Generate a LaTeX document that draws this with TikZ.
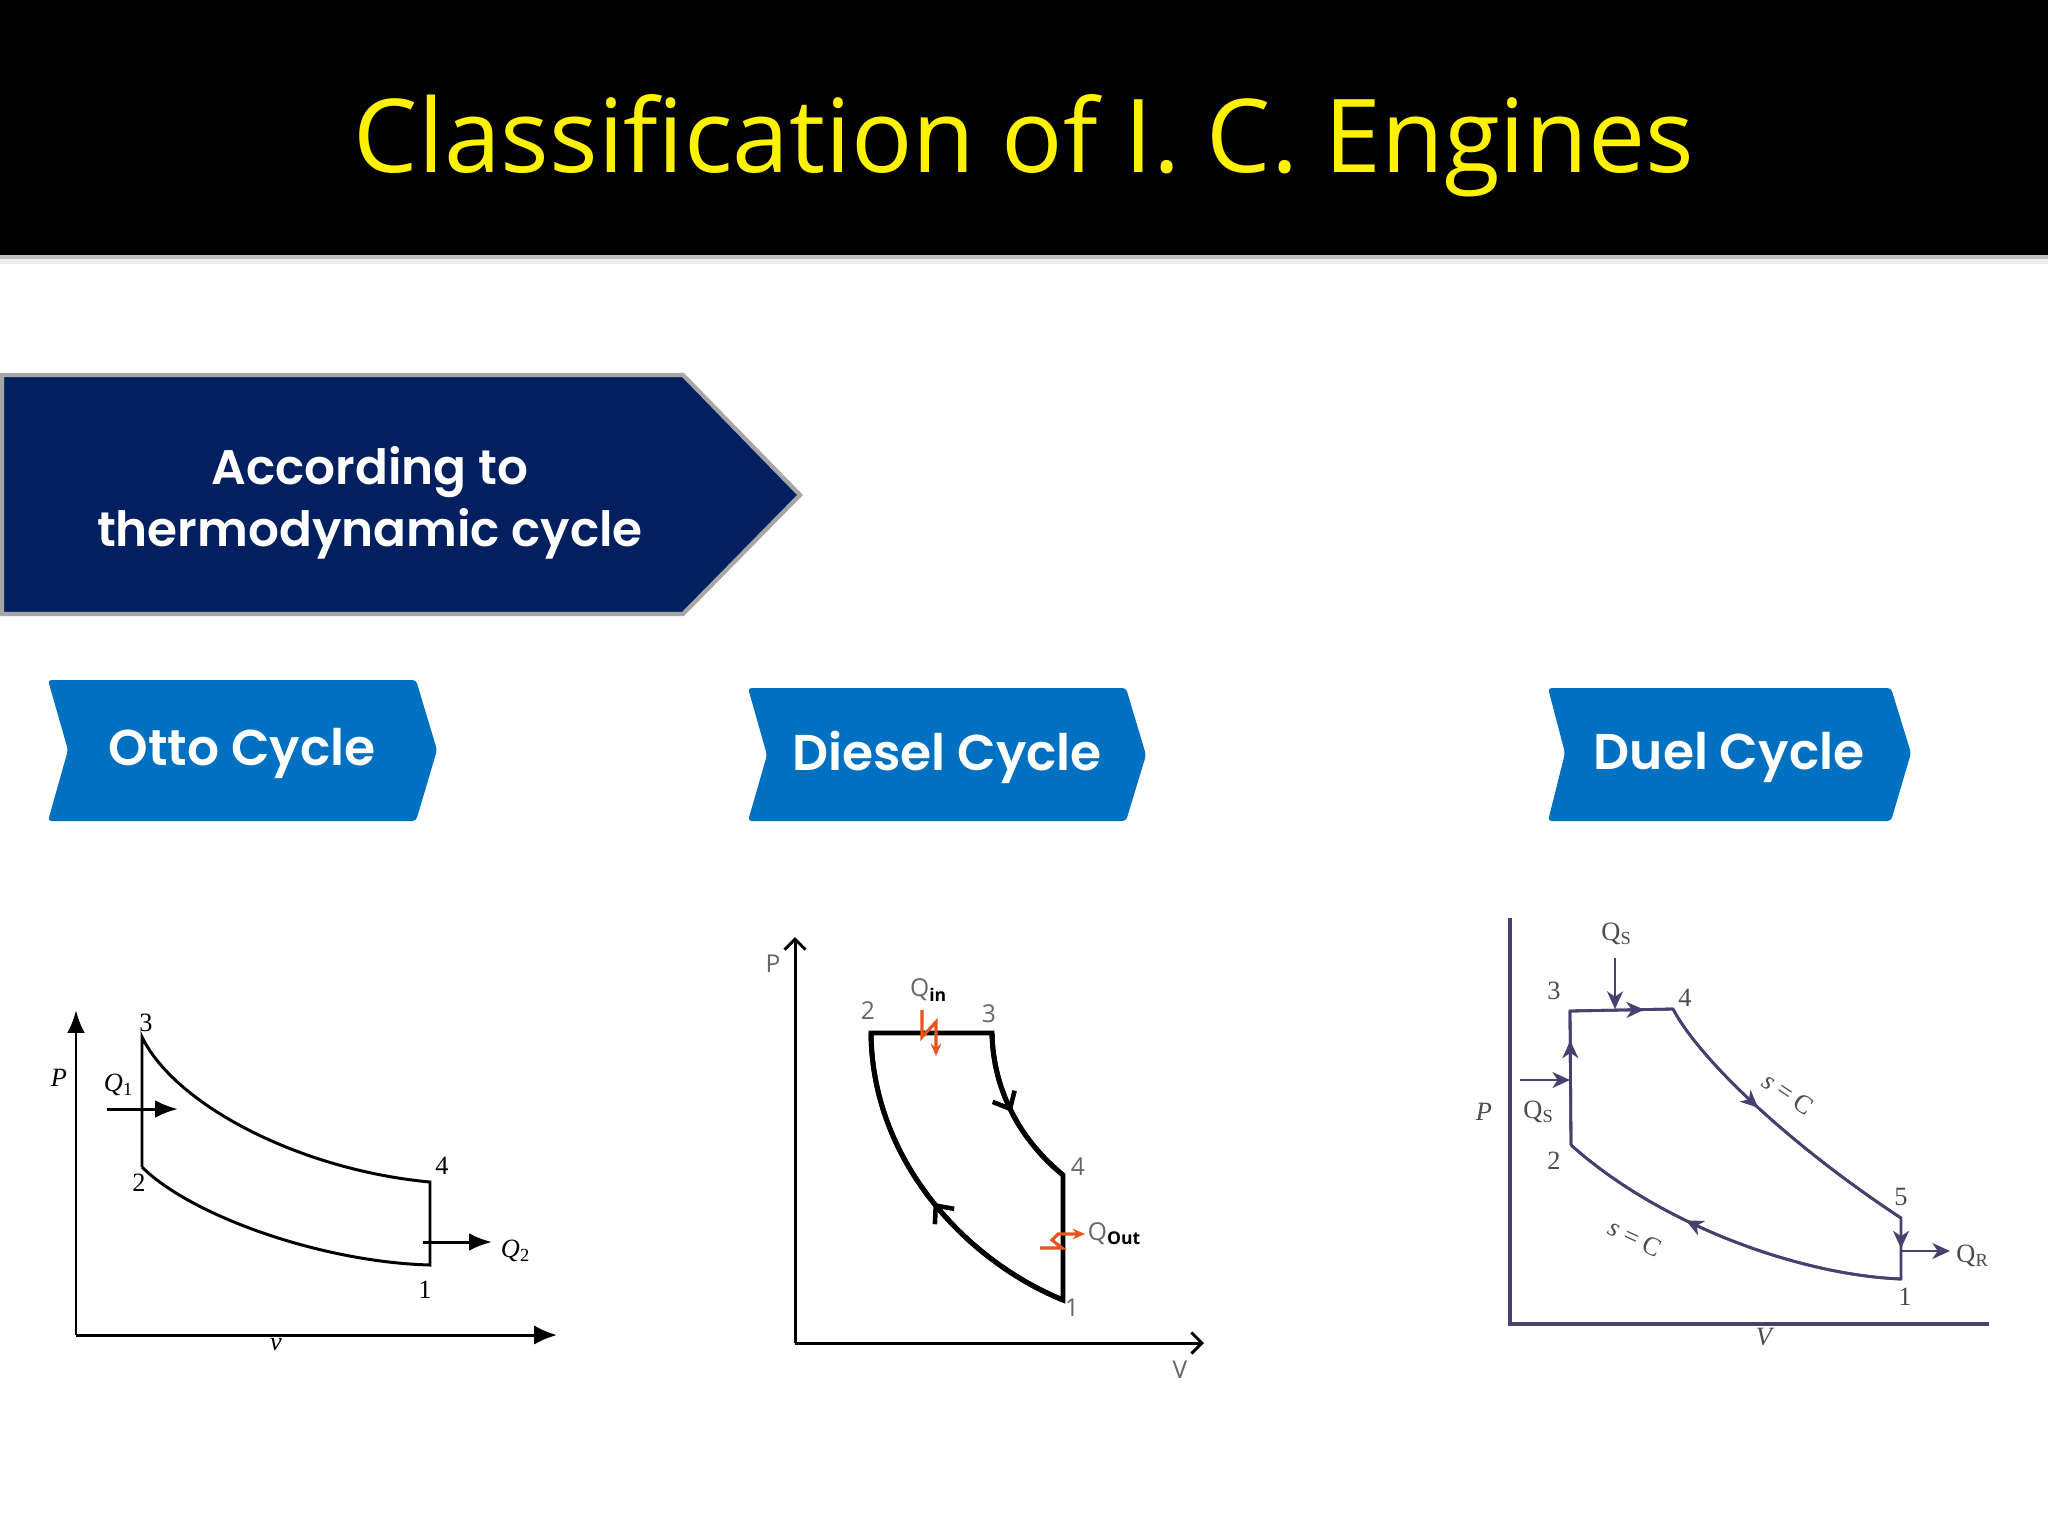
\documentclass[tikz,border=0pt]{standalone}
\usepackage{fontspec}
\setmainfont{Liberation Serif}
\newfontfamily\headfont{Open Sans}
\newfontfamily\boxfont{Poppins SemiBold}
\newfontfamily\plotsans{Open Sans}
\usetikzlibrary{arrows.meta,decorations.markings}

\definecolor{navy}{RGB}{2,32,96}
\definecolor{cycleblue}{RGB}{0,112,192}
\definecolor{qred}{RGB}{232,84,30}
\definecolor{duelline}{RGB}{74,64,112}

\tikzset{
  boxtext/.style={text=white,font=\boxfont\fontsize{14.3}{17}\selectfont},
  ottolbl/.style={font=\fontsize{7.5}{9}\selectfont},
  diesellbl/.style={text=black!60,font=\plotsans\fontsize{7}{8}\selectfont},
  duellbl/.style={text=black!70,font=\fontsize{7.5}{9}\selectfont},
  dieselarrow/.style={postaction={decorate},decoration={markings,
      mark=at position #1 with {\arrow{Straight Barb[length=4pt,width=7pt,line width=1.3pt]}}}},
  duelarrow/.style={postaction={decorate},decoration={markings,
      mark=at position #1 with {\arrow{Stealth[length=5pt,width=4.5pt,inset=1.5pt]}}}},
}

\begin{document}
\begin{tikzpicture}[x=0.01cm,y=-0.01cm]
    \useasboundingbox (0,0) rectangle (2048,1536);
    \fill[white] (0,0) rectangle (2048,1536);

    % header bar
    \fill[black] (0,0) rectangle (2048,255);
    \fill[black!25] (0,255) rectangle (2048,259);
    \fill[black!8] (0,259) rectangle (2048,264);
    \node[text=yellow,font=\headfont\fontsize{29}{34}\selectfont] (title) at (1024,146) {Classification of I. C. Engines};

    % big pentagon
    \filldraw[fill=navy,draw=black!35,line width=1.2pt] (2,375) -- (683,375) -- (800,495) -- (683,614) -- (2,614) -- cycle;
    \node[boxtext,align=center,font=\boxfont\fontsize{13.8}{17.5}\selectfont] (thermo) at (370,503) {According to\\thermodynamic cycle};

    % chevrons
    \fill[cycleblue,rounded corners=1pt] (48,680) -- (416,680) -- (437,750) -- (416,821) -- (48,821) -- (68,750) -- cycle;
    \node[boxtext] (otto) at (242,753) {Otto Cycle};
    \fill[cycleblue,rounded corners=1pt] (748,688) -- (1126,688) -- (1146,755) -- (1126,821) -- (748,821) -- (767,755) -- cycle;
    \node[boxtext] (diesel) at (947,757) {Diesel Cycle};
    \fill[cycleblue,rounded corners=1pt] (1548,688) -- (1891,688) -- (1911,753) -- (1891,821) -- (1548,821) -- (1565,753) -- cycle;
    \node[boxtext] (duel) at (1729,757) {Duel Cycle};

    % Otto cycle
    \coordinate (oo) at (76,1335);
    \coordinate (otop) at (76,1010);
    \coordinate (oright) at (557,1335);
    \coordinate (o1) at (430,1265);
    \coordinate (o2) at (142,1167);
    \coordinate (o3) at (142,1037);
    \coordinate (o4) at (430,1182);
    \coordinate (q1a) at (107,1109);
    \coordinate (q1b) at (178,1109);
    \coordinate (q2a) at (423,1242);
    \coordinate (q2b) at (492,1242);
    \draw[line width=0.85pt,-{Latex[length=6.5pt,width=5pt]}] (oo) -- (otop);
    \draw[line width=0.85pt,-{Latex[length=6.5pt,width=5.5pt]}] (oo) -- (oright);
    \draw[line width=0.85pt] (o2) -- (o3) .. controls (175,1105) and (300,1170) .. (o4) -- (o1)
        .. controls (320,1262) and (190,1215) .. (o2);
    \draw[line width=0.85pt,-{Latex[length=6.5pt,width=5pt]}] (q1a) -- (q1b);
    \draw[line width=0.85pt,-{Latex[length=6.5pt,width=5pt]}] (q2a) -- (q2b);
    \node[ottolbl] (o3l) at (146,1023) {3};
    \node[ottolbl] (o2l) at (139,1183) {2};
    \node[ottolbl] (o4l) at (442,1166) {4};
    \node[ottolbl] (o1l) at (425,1290) {1};
    \node[ottolbl] (opl) at (59,1078) {\itshape P};
    \node[ottolbl] (oq1) at (119,1085) {\itshape Q\textsubscript{\upshape 1}};
    \node[ottolbl] (oq2) at (516,1251) {\itshape Q\textsubscript{\upshape 2}};
    \node[ottolbl] (ovl) at (276,1345) {\itshape v};

    % Diesel cycle
    \coordinate (do) at (795,1343);
    \coordinate (dtop) at (795,937);
    \coordinate (dright) at (1204,1343);
    \coordinate (d1) at (1063,1300);
    \coordinate (d2) at (871,1033);
    \coordinate (d3) at (992,1033);
    \coordinate (d4) at (1063,1175);
    \draw[line width=0.85pt,-{Straight Barb[length=3pt,width=6pt]}] (do) -- (dtop);
    \draw[line width=0.85pt,-{Straight Barb[length=3pt,width=6pt]}] (do) -- (dright);
    \draw[line width=1.4pt] (d1) .. controls (965,1260) and (872,1160) .. (d2) -- (d3)
        .. controls (993,1090) and (1020,1140) .. (d4) -- cycle;
    \draw[line width=1.4pt,dieselarrow=0.5] (d3) .. controls (993,1090) and (1020,1140) .. (d4);
    \draw[line width=1.4pt,dieselarrow=0.47] (d1) .. controls (965,1260) and (872,1160) .. (d2);
    \coordinate (qina) at (922,1010);
    \coordinate (qinb) at (936,1056);
    \draw[qred,line width=0.9pt,-{Stealth[length=3.5pt,width=3pt]}] (qina) -- (922,1037) -- (936,1022) -- (qinb);
    \coordinate (qouta) at (1040,1248);
    \coordinate (qoutb) at (1085,1234);
    \draw[qred,line width=0.9pt,-{Stealth[length=3.5pt,width=3pt]}] (qouta) -- (1062,1248) -- (1052,1240) -- (1058,1234) -- (qoutb);
    \node[diesellbl] (dpl) at (773,964) {P};
    \node[diesellbl] (d2l) at (868,1011) {2};
    \node[diesellbl] (d3l) at (989,1014) {3};
    \node[diesellbl] (d4l) at (1078,1167) {4};
    \node[diesellbl] (d1l) at (1072,1308) {1};
    \node[diesellbl] (dvl) at (1180,1370) {V};
    \node[diesellbl] (dqin) at (929,990) {Q\textsubscript{\color{black}\bfseries in}};
    \node[diesellbl] (dqout) at (1115,1234) {Q\textsubscript{\color{black}\bfseries Out}};

    % Duel cycle
    \coordinate (uo) at (1510,1324);
    \coordinate (utop) at (1510,918);
    \coordinate (uright) at (1989,1324);
    \coordinate (u1) at (1901,1279);
    \coordinate (u2) at (1571,1145);
    \coordinate (u3) at (1570,1011);
    \coordinate (u4) at (1673,1009);
    \coordinate (u5) at (1901,1218);
    \draw[duelline,line width=0.9pt] (utop) -- (uo) -- (uright);
    \draw[duelline,line width=0.8pt] (u2) -- (u3) -- (u4) .. controls (1700,1060) and (1790,1145) .. (u5)
        -- (u1) .. controls (1800,1275) and (1660,1225) .. (u2);
    \draw[duelline,line width=0.8pt,duelarrow=0.78] (u2) -- (u3);
    \draw[duelline,line width=0.8pt,duelarrow=0.72] (u3) -- (u4);
    \draw[duelline,line width=0.8pt,duelarrow=0.42] (u4) .. controls (1700,1060) and (1790,1145) .. (u5);
    \draw[duelline,line width=0.8pt,duelarrow=0.5] (u5) -- (u1);
    \draw[duelline,line width=0.8pt,duelarrow=0.62] (u1) .. controls (1800,1275) and (1660,1225) .. (u2);
    \coordinate (qsa) at (1615,958);
    \coordinate (qsb) at (1615,1009);
    \coordinate (qsc) at (1520,1080);
    \coordinate (qsd) at (1570,1080);
    \coordinate (qra) at (1901,1251);
    \coordinate (qrb) at (1950,1251);
    \draw[duelline,line width=0.8pt,-{Stealth[length=5pt,width=4.5pt,inset=1.5pt]}] (qsa) -- (qsb);
    \draw[duelline,line width=0.8pt,-{Stealth[length=5pt,width=4.5pt,inset=1.5pt]}] (qsc) -- (qsd);
    \draw[duelline,line width=0.8pt,-{Stealth[length=5pt,width=4.5pt,inset=1.5pt]}] (qra) -- (qrb);
    \node[duellbl] (uq1) at (1617,934) {Q\textsubscript{S}};
    \node[duellbl] (uq2) at (1539,1112) {Q\textsubscript{S}};
    \node[duellbl] (uqr) at (1973,1256) {Q\textsubscript{R}};
    \node[duellbl] (u3l) at (1554,991) {3};
    \node[duellbl] (u4l) at (1685,998) {4};
    \node[duellbl] (u2l) at (1554,1161) {2};
    \node[duellbl] (u5l) at (1901,1197) {5};
    \node[duellbl] (u1l) at (1905,1297) {1};
    \node[duellbl] (upl) at (1484,1112) {\itshape P};
    \node[duellbl] (uvl) at (1764,1337) {\itshape V};
    \node[duellbl,rotate=-34] (usc1) at (1788,1094) {\itshape s \upshape = C};
    \node[duellbl,rotate=-25] (usc2) at (1635,1238) {\itshape s \upshape = C};
\end{tikzpicture}
\end{document}
